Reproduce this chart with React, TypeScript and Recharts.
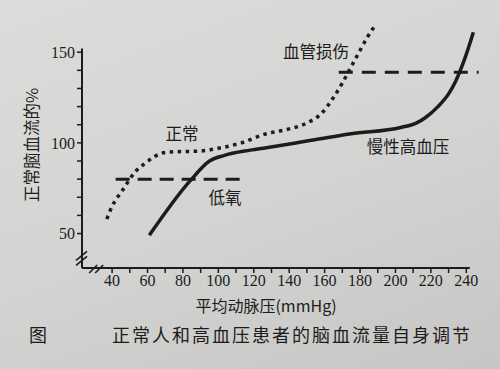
import React from "react";
import {
  LineChart,
  Line,
  XAxis,
  YAxis,
  ReferenceLine,
  ReferenceDot,
} from "recharts";

// 平均动脉压 (mmHg) / 脑血流 (% of normal)
const normalPressure = [37, 40, 46, 53, 59, 64, 68, 73, 90, 100, 113, 127, 137, 150, 158, 165, 170, 175, 180, 184, 188];
const normalFlow = [58, 65, 74, 84, 89, 92.5, 94.3, 95, 95.5, 97, 100, 105, 107, 111, 116, 125, 133, 142, 151, 158, 164];

const htnPressure = [61, 84, 95, 103, 118, 128, 150, 175, 203, 212, 217, 224, 230, 234, 239, 244];
const htnFlow = [49, 79, 90, 93, 96, 97.5, 101, 105, 108.5, 111, 114, 120, 127, 134, 146, 161];

const hypoxiaPressure = [42, 116];
const hypoxiaFlow = [80, 80];

const injuryPressure = [168, 247];
const injuryFlow = [139, 139];

const xTicks = [40, 50, 60, 70, 80, 90, 100, 110, 120, 130, 140, 150, 160, 170, 180, 190, 200, 210, 220, 230, 240];
const yTicks = [50, 60, 70, 80, 90, 100, 110, 120, 130, 140, 150];

const toRows = (xs: number[], ys: number[]) => xs.map((x, i) => ({ x, y: ys[i] }));

const normalData = toRows(normalPressure, normalFlow);
const htnData = toRows(htnPressure, htnFlow);
const hypoxiaData = toRows(hypoxiaPressure, hypoxiaFlow);
const injuryData = toRows(injuryPressure, injuryFlow);

const ink = "#1c1c1c";
const cjk = '"Noto Sans CJK SC", "Noto Sans", sans-serif';
const serif = '"Liberation Serif", "DejaVu Serif", serif';

const BreakMark = (props: any) => {
  const { cx, cy, vertical } = props;
  if (cx == null || cy == null) return null;
  const d = vertical ? [[-6, 5, 5, -4], [-6, 10, 5, 1]] : [[-7, 5, 1, -3], [-1, 5, 7, -3]];
  return (
    <g>
      {d.map((s, i) => (
        <line key={i} x1={cx + s[0]} y1={cy + s[1]} x2={cx + s[2]} y2={cy + s[3]} stroke={ink} strokeWidth={1.6} />
      ))}
    </g>
  );
};

const label = (text: string, left: number, top: number, size = 16.5) => (
  <div
    style={{
      position: "absolute",
      left,
      top,
      transform: "translate(-50%, -50%)",
      fontFamily: cjk,
      fontSize: size,
      color: ink,
      whiteSpace: "nowrap",
    }}
  >
    {text}
  </div>
);

const App: React.FC = () => {
  return (
    <div
      style={{
        position: "absolute",
        left: 0,
        top: 0,
        width: 500,
        height: 369,
        background: "linear-gradient(160deg, #dcdcda 0%, #d3d3d1 55%, #c6c6c4 100%)",
        overflow: "hidden",
        fontFamily: serif,
      }}
    >
      <LineChart
        width={500}
        height={369}
        margin={{ top: 25, right: 16, bottom: 71, left: 22 }}
        style={{ fontFamily: serif }}
      >
        <XAxis
          dataKey="x"
          type="number"
          domain={[23, 250]}
          ticks={xTicks}
          tickFormatter={(v: number) => (v % 20 === 0 ? String(v) : "")}
          axisLine={false}
          tickSize={5}
          tickLine={{ stroke: ink, strokeWidth: 1.5 }}
          tick={{ fill: ink, fontSize: 16, fontFamily: serif }}
          height={30}
          allowDataOverflow
        />
        <YAxis
          type="number"
          domain={[31, 165]}
          ticks={yTicks}
          tickFormatter={(v: number) => (v % 50 === 0 ? String(v) : "")}
          axisLine={false}
          tickSize={5}
          tickLine={{ stroke: ink, strokeWidth: 1.5 }}
          tick={{ fill: ink, fontSize: 16, fontFamily: serif }}
          width={60}
          allowDataOverflow
        />
        <ReferenceLine segment={[{ x: 23, y: 31 }, { x: 23, y: 152 }]} stroke={ink} strokeWidth={2} />
        <ReferenceLine segment={[{ x: 23, y: 31 }, { x: 242, y: 31 }]} stroke={ink} strokeWidth={2} />
        <ReferenceDot x={23} y={38} r={0} shape={(p: any) => <BreakMark {...p} vertical />} />
        <ReferenceDot x={31} y={31} r={0} shape={(p: any) => <BreakMark {...p} />} />
        <Line
          data={hypoxiaData}
          dataKey="y"
          type="linear"
          stroke={ink}
          strokeWidth={3}
          strokeDasharray="14 8"
          dot={false}
          activeDot={false}
          isAnimationActive={false}
        />
        <Line
          data={injuryData}
          dataKey="y"
          type="linear"
          stroke={ink}
          strokeWidth={3}
          strokeDasharray="14 9"
          dot={false}
          activeDot={false}
          isAnimationActive={false}
        />
        <Line
          data={normalData}
          dataKey="y"
          type="monotone"
          stroke={ink}
          strokeWidth={3.5}
          strokeDasharray="3.5 4.5"
          dot={false}
          activeDot={false}
          isAnimationActive={false}
        />
        <Line
          data={htnData}
          dataKey="y"
          type="monotone"
          stroke={ink}
          strokeWidth={3.5}
          dot={false}
          activeDot={false}
          isAnimationActive={false}
        />
      </LineChart>

      {label("正常", 182, 133)}
      {label("低氧", 225, 197)}
      {label("血管损伤", 316, 51)}
      {label("慢性高血压", 408, 146)}
      <div
        style={{
          position: "absolute",
          left: 31,
          top: 145,
          transform: "translate(-50%, -50%) rotate(-90deg)",
          fontFamily: cjk,
          fontSize: 16.5,
          color: ink,
          whiteSpace: "nowrap",
        }}
      >
        正常脑血流的%
      </div>
      <div
        style={{
          position: "absolute",
          left: 266,
          top: 305,
          transform: "translate(-50%, -50%)",
          fontFamily: cjk,
          fontSize: 16,
          color: ink,
          whiteSpace: "nowrap",
        }}
      >
        平均动脉压(mmHg)
      </div>
      {label("图", 38, 334, 18)}
      <div
        style={{
          position: "absolute",
          left: 292,
          top: 334,
          transform: "translate(-50%, -50%)",
          fontFamily: cjk,
          fontSize: 18,
          letterSpacing: 2,
          color: ink,
          whiteSpace: "nowrap",
        }}
      >
        正常人和高血压患者的脑血流量自身调节
      </div>
    </div>
  );
};

export default App;
